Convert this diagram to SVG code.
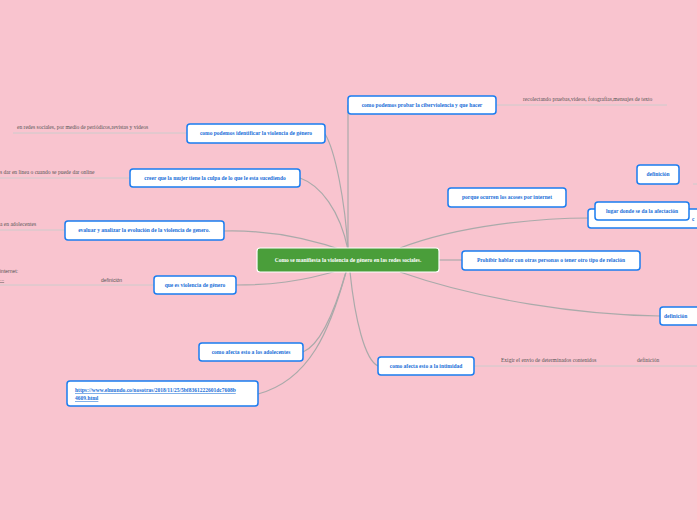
<svg xmlns="http://www.w3.org/2000/svg" width="697" height="520" viewBox="0 0 697 520">
<style>
.n{fill:#fff;stroke:#1a7cf0;stroke-width:1.5}
.t{font-family:"Liberation Serif",serif;font-size:5.5px;font-weight:bold;fill:#1a6fd8}
.l{font-family:"Liberation Serif",serif;font-size:5.5px;fill:#555}
.c{fill:none;stroke:#aaa;stroke-width:1.2}
.u{fill:none;stroke:#ccc;stroke-width:1}
</style>
<rect width="697" height="520" fill="#f9c4cf"/>
<g id="connectors">
<path class="c" d="M348 250 C348 200 348 140 348 105"/>
<path class="c" d="M348 250 C345 200 335 150 325 134"/>
<path class="c" d="M348 250 C340 210 320 185 300 178"/>
<path class="c" d="M348 252 C300 235 260 230 224 231"/>
<path class="c" d="M340 270 C300 282 270 285 236 285"/>
<path class="c" d="M346 272 C335 310 320 345 303 352"/>
<path class="c" d="M346 272 C330 330 310 380 258 394"/>
<path class="c" d="M350 272 C355 320 365 360 378 366"/>
<path class="c" d="M400 248 C460 225 540 218 590 218"/>
<path class="c" d="M439 260 L462 260"/>
<path class="c" d="M400 272 C480 300 580 315 660 316"/>
<path class="u" d="M496 105 L667 105"/>
<path class="u" d="M13 133 L187 133"/>
<path class="u" d="M0 178 L130 178"/>
<path class="u" d="M0 230 L65 230"/>
<path class="u" d="M0 285 L154 285"/>
<path class="u" d="M474 366 L697 366"/>
<path class="u" d="M693 184 L697 184"/>
</g>
<text class="l" x="523" y="101">recolectando pruebas,videos, fotografias,mensajes de texto</text>
<text class="l" x="17" y="129">en redes sociales, por medio de periódicos,revistas y videos</text>
<text class="l" x="0" y="174">s dar en linea o cuando se puede dar online</text>
<text class="l" x="0" y="226">a en adolecentes</text>
<text class="l" x="101" y="282" style="font-family:'Liberation Sans',sans-serif;font-size:5px">definición</text>
<text class="l" x="0" y="273" style="font-family:'Liberation Sans',sans-serif;font-size:5px">internet:</text>
<text class="l" x="0" y="281" style="font-family:'Liberation Sans',sans-serif;font-size:5px;text-decoration:underline">...</text>
<text class="l" x="501" y="362">Exigir el envio de  determinados contenidos</text>
<text class="l" x="637" y="362">definición</text>
<g id="center"><rect x="257" y="248" width="182" height="24" rx="3" fill="#4a9e3a" stroke="#fff" stroke-width="1.2"/><text x="348" y="262" text-anchor="middle" style="font-family:'Liberation Serif',serif;font-size:5.5px;font-weight:bold;fill:#fff">Como se manifiesta la violencia de género en las redes sociales.</text></g>
<g id="n1"><rect class="n" x="348" y="96" width="148" height="18" rx="3"/><text class="t" x="422" y="107" text-anchor="middle">como podemos probar la ciberviolencia y que hacer</text></g>
<g id="n2"><rect class="n" x="187" y="124" width="138" height="19" rx="3"/><text class="t" x="256" y="135" text-anchor="middle">como podemos identificar la violencia de género</text></g>
<g id="n3"><rect class="n" x="130" y="169" width="170" height="18" rx="3"/><text class="t" x="215" y="180" text-anchor="middle">creer que la mujer tiene la culpa de lo que le esta sucediendo</text></g>
<g id="n4"><rect class="n" x="65" y="221" width="159" height="19" rx="3"/><text class="t" x="144" y="232" text-anchor="middle">evaluar y analizar la evolución de la violencia de genero.</text></g>
<g id="n5"><rect class="n" x="154" y="276" width="82" height="18" rx="3"/><text class="t" x="195" y="287" text-anchor="middle">que es violencia de género</text></g>
<g id="n6"><rect class="n" x="199" y="343" width="104" height="18" rx="3"/><text class="t" x="251" y="354" text-anchor="middle">como afecta esto a los adolecentes</text></g>
<g id="n7"><rect class="n" x="67" y="381" width="191" height="25" rx="3"/><text class="t" x="75" y="392" style="text-decoration:underline">https://www.elmundo.co/nosotras/2018/11/25/5bf8361222601dc7608b</text><text class="t" x="75" y="400" style="text-decoration:underline">4609.html</text></g>
<g id="n8"><rect class="n" x="448" y="188" width="118" height="19" rx="3"/><text class="t" x="507" y="199" text-anchor="middle">porque ocurren los acoses por internet</text></g>
<g id="n9"><rect class="n" x="637" y="165" width="42" height="19" rx="3"/><text class="t" x="658" y="176" text-anchor="middle">definición</text></g>
<g id="n10"><rect class="n" x="588" y="209" width="115" height="19" rx="3"/><text class="t" x="692" y="221">c</text></g>
<g id="n11"><rect class="n" x="595" y="202" width="94" height="18" rx="3"/><text class="t" x="642" y="213" text-anchor="middle">lugar donde se da la afectación</text></g>
<g id="n12"><rect class="n" x="462" y="251" width="178" height="19" rx="3"/><text class="t" x="551" y="262" text-anchor="middle">Prohibir hablar con otras personas o tener otro tipo de relación</text></g>
<g id="n13"><rect class="n" x="660" y="307" width="45" height="18" rx="3"/><text class="t" x="664" y="318">definición</text></g>
<g id="n14"><rect class="n" x="378" y="357" width="96" height="18" rx="3"/><text class="t" x="426" y="368" text-anchor="middle">como afecta esto a la intimidad</text></g>
</svg>
